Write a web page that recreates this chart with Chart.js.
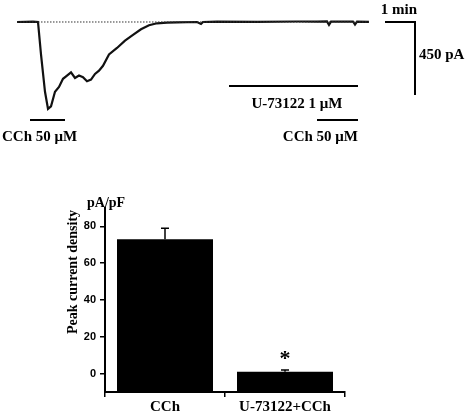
<!DOCTYPE html>
<html><head><meta charset="utf-8">
<script src="https://cdn.jsdelivr.net/npm/chart.js@4"></script>
<style>
body{margin:0;background:#fff;width:474px;height:418px;position:relative;overflow:hidden}
#trace{position:absolute;left:0;top:0}
#bars{position:absolute;left:0;top:195px}
</style></head><body>
<canvas id="trace" width="474" height="150"></canvas>
<canvas id="bars" width="474" height="223"></canvas>
<script>
// trace: time (s) and current (pA)
const traceTime = [0, 8, 10.5, 12, 14, 15.5, 17, 19, 21, 23, 25, 27, 29, 31, 33, 35, 37, 39, 41, 43, 46, 50, 54, 58, 62, 66, 70, 75, 80, 90, 92, 93, 100, 120, 140, 150, 155, 156, 157, 168, 169, 170, 176];
const traceCurrent = [0, 2, 0, -200, -430, -536, -520, -430, -400, -350, -330, -310, -345, -330, -340, -365, -355, -320, -300, -270, -200, -160, -115, -80, -45, -20, -8, -4, -2, 0, -12, 0, 2, 1, 3, 2, 4, -18, 2, 3, -16, 2, 1];
// bar panel
const groups = ['CCh', 'U-73122+CCh'];
const peakDensity = [73, 1];
const peakError = [6, 1];
const yTicks = [0, 20, 40, 60, 80];

const serif = '"Liberation Serif", serif';
const sans = '"Liberation Sans", Arial, sans-serif';

const traceMarks = {
  id: 'traceMarks',
  afterDraw(chart) {
    const c = chart.ctx, x = chart.scales.x, y = chart.scales.y;
    const X = v => x.getPixelForValue(v), Y = v => y.getPixelForValue(v);
    c.save();
    // dotted baseline
    c.strokeStyle = '#333'; c.lineWidth = 1; c.setLineDash([1.5, 1.5]);
    c.beginPath(); c.moveTo(X(0), Y(0)); c.lineTo(X(176), Y(0)); c.stroke();
    c.setLineDash([]);
    c.strokeStyle = '#000'; c.lineWidth = 2;
    const hbar = (a, b, v) => { c.beginPath(); c.moveTo(X(a), Y(v)); c.lineTo(X(b), Y(v)); c.stroke(); };
    hbar(6.5, 24, -604);
    hbar(150, 170.5, -604);
    hbar(106, 170.5, -394);
    // scale bars
    c.beginPath(); c.moveTo(X(184), Y(0)); c.lineTo(X(199), Y(0)); c.lineTo(X(199), Y(-450)); c.stroke();
    c.fillStyle = '#000'; c.font = 'bold 15px ' + serif; c.textBaseline = 'middle';
    c.textAlign = 'left';
    c.fillText('CCh 50 μM', 2, 137);
    c.fillText('450 pA', 419, 55);
    c.textAlign = 'right';
    c.fillText('CCh 50 μM', 358, 137);
    c.fillText('1 min', 417, 10);
    c.textAlign = 'center';
    c.fillText('U-73122 1 μM', 297, 104);
    c.restore();
  }
};

new Chart(document.getElementById('trace'), {
  type: 'line',
  data: { datasets: [{
    data: traceTime.map((t, i) => ({ x: t, y: traceCurrent[i] })),
    borderColor: '#111', borderWidth: 2.2, pointRadius: 0, tension: 0
  }] },
  options: {
    responsive: false, animation: false,
    layout: { padding: 0 },
    plugins: { legend: { display: false }, tooltip: { enabled: false } },
    scales: {
      x: { type: 'linear', display: false, min: -8.5, max: 228.5 },
      y: { display: false, min: -789, max: 135.6 }
    }
  },
  plugins: [traceMarks]
});

const barMarks = {
  id: 'barMarks',
  afterDatasetsDraw(chart) {
    const c = chart.ctx, x = chart.scales.x, y = chart.scales.y;
    c.save();
    c.strokeStyle = '#000'; c.lineWidth = 1.5;
    peakDensity.forEach((v, i) => {
      const px = x.getPixelForValue(i);
      c.beginPath();
      c.moveTo(px, y.getPixelForValue(v)); c.lineTo(px, y.getPixelForValue(v + peakError[i]));
      c.moveTo(px - 4, y.getPixelForValue(v + peakError[i])); c.lineTo(px + 4, y.getPixelForValue(v + peakError[i]));
      c.stroke();
    });
    c.fillStyle = '#000'; c.textAlign = 'center'; c.textBaseline = 'middle';
    c.font = 'bold 22px ' + serif;
    c.fillText('*', x.getPixelForValue(1), y.getPixelForValue(7.5));
    c.font = 'bold 14px ' + serif;
    c.textAlign = 'left';
    c.fillText('pA/pF', 87, 8);
    c.translate(73, 77); c.rotate(-Math.PI / 2);
    c.textAlign = 'center';
    c.fillText('Peak current density', 0, 0);
    c.restore();
  }
};

new Chart(document.getElementById('bars'), {
  type: 'bar',
  data: { labels: groups, datasets: [{
    data: peakDensity, base: -10, backgroundColor: '#000', borderWidth: 0,
    barPercentage: 0.8, categoryPercentage: 1
  }] },
  options: {
    responsive: false, animation: false,
    layout: { padding: { top: 13, right: 129, left: 0, bottom: 0 } },
    plugins: { legend: { display: false }, tooltip: { enabled: false } },
    scales: {
      x: {
        afterFit(s) { s.height = 26; },
        grid: { drawOnChartArea: false, tickLength: 5, color: '#000', lineWidth: 1.5 },
        border: { color: '#000', width: 2 },
        ticks: { color: '#000', font: { family: serif, size: 15, weight: 'bold' }, padding: 1 }
      },
      y: {
        min: -10, max: 90,
        afterFit(s) { s.width = 105; },
        afterBuildTicks(s) { s.ticks = yTicks.map(v => ({ value: v })); },
        grid: { drawOnChartArea: false, tickLength: 5, color: '#000', lineWidth: 1.5 },
        border: { color: '#000', width: 2 },
        ticks: { color: '#000', font: { family: sans, size: 11, weight: 'bold' }, padding: 4 }
      }
    }
  },
  plugins: [barMarks]
});
</script>
</body></html>
